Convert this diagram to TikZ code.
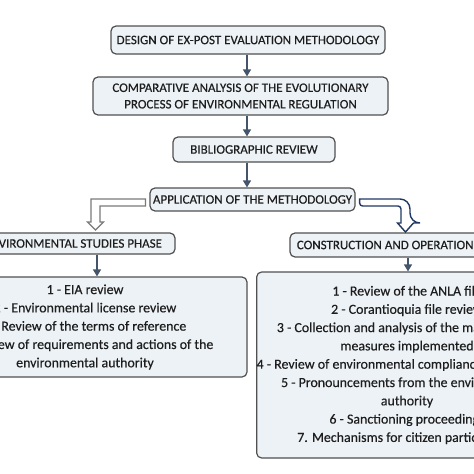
\documentclass[tikz,border=0pt]{standalone}
\usepackage{fontspec}
\setmainfont{Carlito}[FakeBold=0.35]
\usetikzlibrary{calc,arrows.meta}
\definecolor{boxfill}{HTML}{EDF2F6}
\definecolor{boxline}{HTML}{505050}
\definecolor{flowc}{HTML}{44546A}
\definecolor{navyc}{HTML}{1F3864}
\definecolor{hollowc}{HTML}{7A7A7A}
\definecolor{txtc}{HTML}{1E1E1E}
\begin{document}
\begin{tikzpicture}[x=1pt,y=-1pt,
  box/.style={draw=boxline, fill=boxfill, line width=1.2pt, rounded corners=5pt, text=txtc, inner sep=0pt, align=center, font=\fontsize{13}{16.5}\selectfont},
  listbox/.style={box, font=\fontsize{13.9}{18.3}\selectfont},
  flow/.style={draw=flowc, line width=1.4pt, -{Triangle[length=7pt,width=8pt]}},
  hollowl/.style={draw=hollowc, fill=white, line width=1.2pt},
  hollowr/.style={draw=navyc, fill=white, line width=1.4pt}]
\useasboundingbox (0,0) rectangle (474,474);
\clip (0,0) rectangle (474,474);
\fill[white] (0,0) rectangle (474,474);

\node[box, minimum width=274pt, minimum height=28pt] (design) at (248,40) {DESIGN OF EX-POST EVALUATION METHODOLOGY};
\node[box, minimum width=295pt, minimum height=38pt] (comp) at (240.5,96) {COMPARATIVE ANALYSIS OF THE EVOLUTIONARY\\PROCESS OF ENVIRONMENTAL REGULATION};
\node[box, minimum width=162pt, minimum height=25pt] (biblio) at (254,149.5) {BIBLIOGRAPHIC REVIEW};
\node[box, minimum width=205pt, minimum height=23pt] (app) at (252.5,199.5) {APPLICATION OF THE METHODOLOGY};
\node[box, minimum width=204pt, minimum height=21pt] (esp) at (73,243.5) {ENVIRONMENTAL STUDIES PHASE};
\node[listbox, minimum width=324pt, minimum height=100pt] (esl) at (85,327) {1 - EIA review\\2 - Environmental license review\\3 - Review of the terms of reference\\4 - Review of requirements and actions of the\\environmental authority};
\node[box, minimum width=228pt, minimum height=24pt] (cop) at (404,245) {CONSTRUCTION AND OPERATION PHASE};
\node[listbox, minimum width=300pt, minimum height=186pt] (col) at (407,365) {1 - Review of the ANLA file\\2 - Corantioquia file review\\3 - Collection and analysis of the management\\measures implemented\\4 - Review of environmental compliance reports (ICA)\\5 - Pronouncements from the environmental\\authority\\6 - Sanctioning proceedings\\7. Mechanisms for citizen participation};

\coordinate (axis) at (247,0);
\draw[flow] (design.south -| axis) -- (comp.north -| axis);
\draw[flow] (comp.south -| axis) -- (biblio.north -| axis);
\draw[flow] (biblio.south -| axis) -- (app.north -| axis);
\coordinate (laxis) at (97,0);
\draw[flow] (esp.south -| laxis) -- (esl.north -| laxis);
\coordinate (raxis) at (408,0);
\draw[flow] (cop.south -| raxis) -- (col.north -| raxis);

\coordinate (lt) at (95.5,230);
\coordinate (rt) at (405.5,232);
\draw[hollowl] ($(app.west)+(-4,-0.5)$) -| ($(lt)+(-4.5,-8)$) -- ($(lt)+(-8,-8)$) -- (lt) -- ($(lt)+(8,-8)$) -- ($(lt)+(4.5,-8)$) |- ($(app.west)+(-4,6.5)$) -- cycle;
\draw[hollowr] [rounded corners=10pt] ($(app.east)+(4,-0.5)$) -| ($(rt)+(4.5,-9)$) [sharp corners] -- ($(rt)+(8,-9)$) -- (rt) -- ($(rt)+(-8,-9)$) -- ($(rt)+(-4.5,-9)$) [rounded corners=3pt] |- ($(app.east)+(4,6.5)$) [sharp corners] -- cycle;
\end{tikzpicture}
\end{document}
